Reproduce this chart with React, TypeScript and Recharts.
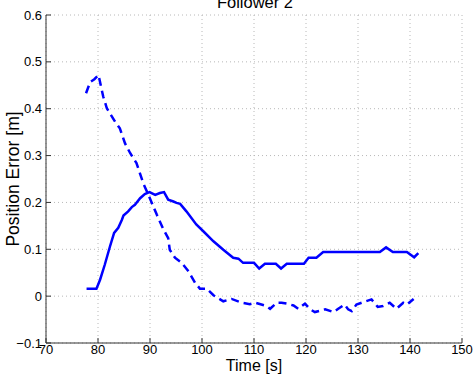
import { LineChart, Line, XAxis, YAxis, CartesianGrid } from "recharts";

// time stamps [s] and position errors [m]
const solidTime: number[] = [
  77.8, 79.7, 80.4, 81.3, 82.3, 83.1, 83.9, 84.6, 84.9, 85.8, 86.5, 87.1,
  88.1, 89.0, 89.9, 91.0, 91.9, 92.7, 93.5, 94.5, 95.1, 95.8, 97.0, 98.9,
  100.3, 102.2, 104.1, 106.0, 107.0, 107.9, 110.0, 111.0, 112.1, 114.2, 115.2,
  116.3, 119.6, 120.5, 122.0, 123.3, 127.2, 130.4, 134.2, 135.4, 136.7, 139.4,
  140.8, 141.6,
];
const solidErr: number[] = [
  0.016, 0.016, 0.035, 0.067, 0.106, 0.135, 0.146, 0.163, 0.172, 0.181, 0.19,
  0.195, 0.209, 0.218, 0.222, 0.216, 0.22, 0.222, 0.206, 0.202, 0.199, 0.197,
  0.181, 0.153, 0.138, 0.117, 0.099, 0.082, 0.08, 0.071, 0.071, 0.059, 0.069,
  0.069, 0.059, 0.069, 0.069, 0.082, 0.082, 0.094, 0.094, 0.094, 0.094, 0.104,
  0.094, 0.094, 0.083, 0.092,
];

const dashedTime: number[] = [
  77.7, 78.5, 79.3, 80.1, 81.0, 81.7, 82.3, 83.3, 84.2, 85.2, 86.2, 87.4,
  88.7, 89.7, 91.3, 92.6, 93.5, 93.8, 94.8, 96.1, 97.4, 98.7, 99.6, 100.9,
  102.2, 104.1, 105.7, 107.6, 109.2, 110.2, 112.4, 113.1, 114.4, 115.3, 116.3,
  117.6, 118.5, 119.8, 120.8, 121.7, 123.7, 125.3, 126.2, 127.4, 128.1, 128.8,
  129.7, 131.0, 132.6, 133.8, 134.8, 136.1, 137.4, 138.7, 139.4, 140.7,
];
const dashedErr: number[] = [
  0.433, 0.457, 0.463, 0.472, 0.426, 0.401, 0.39, 0.372, 0.358, 0.326, 0.305,
  0.284, 0.241, 0.216, 0.174, 0.142, 0.124, 0.099, 0.082, 0.071, 0.053, 0.028,
  0.016, 0.016, 0.002, -0.011, -0.006, -0.014, -0.017, -0.014, -0.021, -0.027,
  -0.014, -0.014, -0.016, -0.02, -0.027, -0.016, -0.028, -0.034, -0.028,
  -0.034, -0.027, -0.018, -0.028, -0.032, -0.018, -0.013, -0.007, -0.023,
  -0.021, -0.014, -0.027, -0.014, -0.018, -0.006,
];

const xTicks: number[] = [70, 80, 90, 100, 110, 120, 130, 140, 150];
const yTicks: number[] = [-0.1, 0, 0.1, 0.2, 0.3, 0.4, 0.5, 0.6];

const solidData = solidTime.map((t, i) => ({ t, e: solidErr[i] }));
const dashedData = dashedTime.map((t, i) => ({ t, e: dashedErr[i] }));

const FONT = "'Liberation Sans', Arial, Helvetica, sans-serif";
const AXIS = "#333";
const BLUE = "#0000ff";

const fmtY = (v: number) => {
  if (v === 0) return "0";
  const s = v.toFixed(1);
  return v < 0 ? "\u2212" + s.slice(1) : s;
};

function BottomTick(props: any) {
  const { x, y, payload } = props;
  return (
    <g>
      <line x1={x} y1={y} x2={x} y2={y - 5} stroke={AXIS} />
      <text x={x} y={y + 11} textAnchor="middle" fontSize={13} fontFamily={FONT} fill="#000">
        {payload.value}
      </text>
    </g>
  );
}

function LeftTick(props: any) {
  const { x, y, payload } = props;
  return (
    <g>
      <line x1={x} y1={y} x2={x + 5} y2={y} stroke={AXIS} />
      <text x={x - 4} y={y + 4.5} textAnchor="end" fontSize={13} fontFamily={FONT} fill="#000">
        {fmtY(payload.value)}
      </text>
    </g>
  );
}

function TopTick(props: any) {
  const { x, y } = props;
  return <line x1={x} y1={y} x2={x} y2={y + 5} stroke={AXIS} />;
}

function RightTick(props: any) {
  const { x, y } = props;
  return <line x1={x} y1={y} x2={x - 5} y2={y} stroke={AXIS} />;
}

export default function App() {
  return (
    <div
      style={{
        position: "absolute",
        left: 0,
        top: 0,
        width: 474,
        height: 377,
        overflow: "hidden",
        background: "#fff",
      }}
    >
      <LineChart
        width={474}
        height={377}
        margin={{ top: 15, right: 12, bottom: 0, left: 0 }}
      >
        <CartesianGrid stroke="#b8b8b8" strokeDasharray="1 3" />
        <XAxis
          dataKey="t"
          type="number"
          domain={[70, 150]}
          ticks={xTicks}
          height={34}
          allowDuplicatedCategory={false}
          tickSize={0}
          tickMargin={0}
          tickLine={false}
          tick={<BottomTick />}
          axisLine={{ stroke: AXIS }}
        />
        <XAxis
          xAxisId="top"
          orientation="top"
          dataKey="t"
          type="number"
          domain={[70, 150]}
          ticks={xTicks}
          height={0}
          tickSize={0}
          tickMargin={0}
          tickLine={false}
          tick={<TopTick />}
          axisLine={{ stroke: AXIS }}
        />
        <YAxis
          dataKey="e"
          type="number"
          domain={[-0.1, 0.6]}
          ticks={yTicks}
          width={46}
          tickSize={0}
          tickMargin={0}
          tickLine={false}
          tick={<LeftTick />}
          axisLine={{ stroke: AXIS }}
        />
        <YAxis
          yAxisId="right"
          orientation="right"
          dataKey="e"
          type="number"
          domain={[-0.1, 0.6]}
          ticks={yTicks}
          width={0}
          tickSize={0}
          tickMargin={0}
          tickLine={false}
          tick={<RightTick />}
          axisLine={{ stroke: AXIS }}
        />
        <Line
          data={solidData}
          dataKey="e"
          type="linear"
          stroke={BLUE}
          strokeWidth={2.5}
          dot={false}
          isAnimationActive={false}
        />
        <Line
          data={dashedData}
          dataKey="e"
          type="linear"
          stroke={BLUE}
          strokeWidth={2.5}
          strokeDasharray="8 5"
          dot={false}
          isAnimationActive={false}
        />
      </LineChart>
      <svg
        width={474}
        height={377}
        style={{ position: "absolute", left: 0, top: 0, pointerEvents: "none" }}
      >
        <text x={255} y={8} textAnchor="middle" fontSize={16.5} fontFamily={FONT} fill="#000">
          Follower 2
        </text>
        <text x={254} y={371} textAnchor="middle" fontSize={16} fontFamily={FONT} fill="#000">
          Time [s]
        </text>
        <text
          x={0}
          y={0}
          transform="translate(19,179) rotate(-90)"
          textAnchor="middle"
          fontSize={17.5}
          fontFamily={FONT}
          fill="#000"
        >
          Position Error [m]
        </text>
      </svg>
    </div>
  );
}
